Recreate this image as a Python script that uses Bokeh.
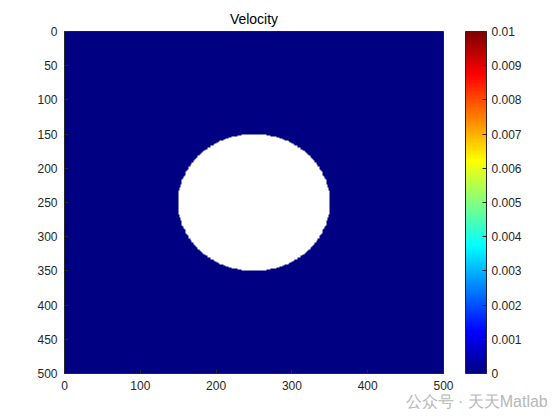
import numpy as np
from bokeh.plotting import figure
from bokeh.models import LinearColorMapper, ColorBar, FixedTicker, Range1d, Title
from bokeh.embed import file_html
from bokeh.resources import INLINE

# ---- data ----
grid_n = 500                 # 500 x 500 grid
hole_center = (250, 250)     # obstacle centre (x, y)
hole_radius = 100            # obstacle radius
field_value = 0.0            # velocity everywhere outside the obstacle
clim = (0.0, 0.01)
x_ticks = [0, 100, 200, 300, 400, 500]
y_ticks = [0, 50, 100, 150, 200, 250, 300, 350, 400, 450, 500]
cb_ticks = [0, 0.001, 0.002, 0.003, 0.004, 0.005, 0.006, 0.007, 0.008, 0.009, 0.01]
cb_labels = ["0", "0.001", "0.002", "0.003", "0.004", "0.005", "0.006", "0.007", "0.008", "0.009", "0.01"]
title = "Velocity"
watermark = "公众号 · 天天Matlab"

yy, xx = np.mgrid[0:grid_n, 0:grid_n] + 0.5
field = np.full((grid_n, grid_n), field_value, dtype=np.float32)
field[(xx - hole_center[0]) ** 2 + (yy - hole_center[1]) ** 2 <= hole_radius ** 2] = np.nan

# MATLAB jet colormap (256 entries)
def jet(N=256):
    n = int(np.ceil(N / 4))
    u = np.concatenate([np.arange(1, n + 1) / n, np.ones(n - 1), np.arange(n, 0, -1) / n])
    g = int(np.ceil(n / 2)) - (1 if N % 4 == 1 else 0) + np.arange(1, len(u) + 1)
    r = g + n
    b = g - n
    cols = np.zeros((N, 3))
    for idx, ch in ((r, 0), (g, 1), (b, 2)):
        m = (idx >= 1) & (idx <= N)
        cols[idx[m] - 1, ch] = u[m]
    return ["#%02x%02x%02x" % tuple(int(round(v * 255)) for v in c) for c in cols]

palette = jet(256)
FONT = "Liberation Sans"
TXT = "#262626"

mapper = LinearColorMapper(palette=palette, low=clim[0], high=clim[1], nan_color="white")

p = figure(output_backend="svg", toolbar_location=None,
           x_range=Range1d(0, grid_n), y_range=Range1d(grid_n, 0),
           frame_width=379, frame_height=342, min_border_left=64, min_border_top=31,
           min_border_bottom=40, min_border_right=110)
p.image(image=[field], x=0, y=0, dw=grid_n, dh=grid_n, color_mapper=mapper)

p.grid.visible = False
p.outline_line_color = TXT
p.outline_line_width = 1
p.background_fill_color = "white"
p.border_fill_color = "white"

for ax, ticks in ((p.xaxis[0], x_ticks), (p.yaxis[0], y_ticks)):
    ax.ticker = FixedTicker(ticks=ticks)
    ax.major_tick_in = 4
    ax.major_tick_out = 0
    ax.minor_tick_line_color = None
    ax.axis_line_color = TXT
    ax.major_tick_line_color = TXT
    ax.major_label_text_font = FONT
    ax.major_label_text_font_size = "12px"
    ax.major_label_text_color = TXT
    ax.major_label_standoff = 7

p.title.text = title
p.title.align = "center"
p.title.text_font = FONT
p.title.text_font_size = "14px"
p.title.text_font_style = "normal"
p.title.text_color = "#000000"

cb = ColorBar(color_mapper=mapper, ticker=FixedTicker(ticks=cb_ticks),
              major_label_overrides={t: l for t, l in zip(cb_ticks, cb_labels)},
              location=(401, 0), width=21, height=342, padding=0, margin=0,
              major_tick_in=4, major_tick_out=0, major_tick_line_color=TXT,
              bar_line_color=TXT, border_line_color=None, background_fill_color=None,
              major_label_text_font=FONT, major_label_text_font_size="12px",
              major_label_text_color=TXT, label_standoff=5)
p.add_layout(cb)

wm = Title(text=watermark, align="left", offset=341, text_font=FONT,
           text_font_size="16px", text_font_style="normal", text_color="#b8b8b8",
           standoff=-3)
p.add_layout(wm, "below")

open("out.html", "w").write(file_html(p, INLINE))
